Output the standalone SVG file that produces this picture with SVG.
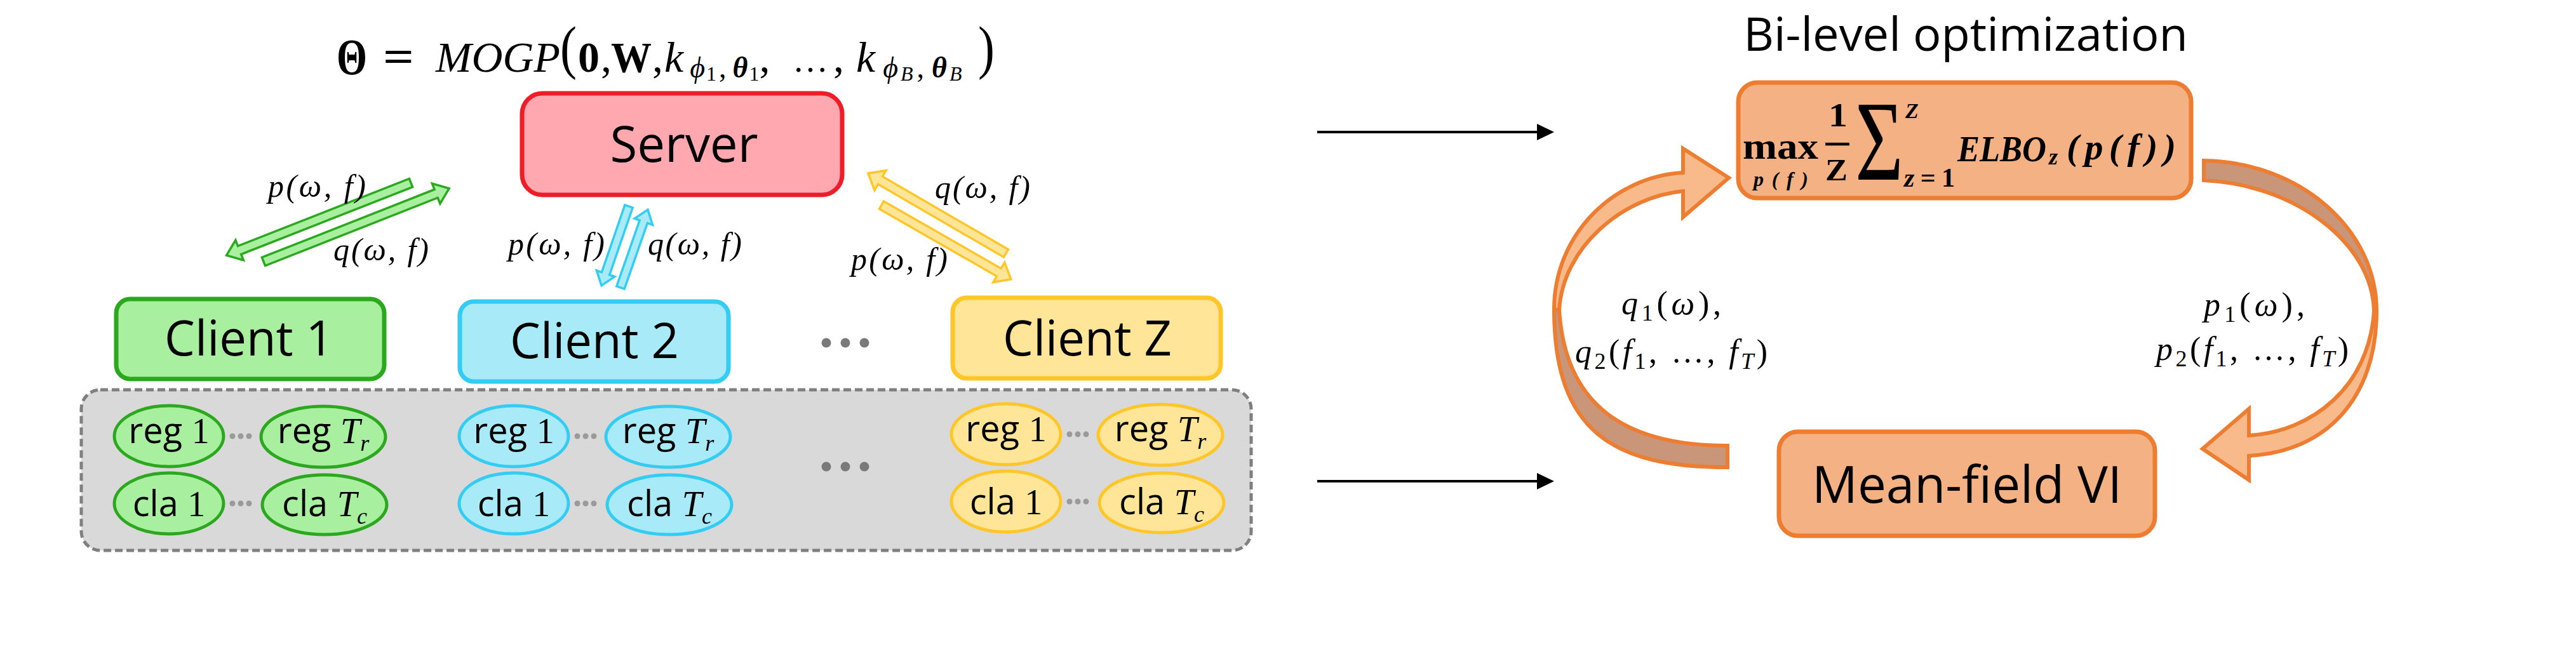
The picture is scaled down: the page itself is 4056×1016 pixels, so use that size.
<svg xmlns="http://www.w3.org/2000/svg" width="4056" height="1016" viewBox="0 0 4056 1016">
<defs>
<style>
.bg{fill:#ffffff}
.sans{font-family:"Open Sans","Noto Sans","DejaVu Sans",sans-serif;fill:#000}
.m{font-family:"Liberation Serif","DejaVu Serif",serif;fill:#000}
.mi{font-family:"Liberation Serif","DejaVu Serif",serif;font-style:italic;fill:#000}
.up{font-style:normal}
.mb{font-family:"Liberation Serif","DejaVu Serif",serif;font-weight:bold;fill:#000}
.g{fill:#A9EFA0;stroke:#2CA81F}
.b{fill:#A9EAF9;stroke:#33CCF3}
.y{fill:#FFE597;stroke:#FFC629}
.r{fill:#FFA8AF;stroke:#EE1D27}
.o{fill:#F4B183;stroke:#ED7D31}
.box{stroke-width:7}
.ell{stroke-width:5}
.blk{stroke-width:3.5;stroke-linejoin:miter}
.sd{fill:#9a9a9a}
.bd{fill:#7a7a7a}
.cl{fill:#F9BA8B;stroke:#ED7D31;stroke-width:6;stroke-linejoin:miter}
.cd{fill:#C9967A;stroke:#ED7D31;stroke-width:6;stroke-linejoin:miter}
.kline{stroke:#000;stroke-width:4}
</style>
</defs>
<rect class="bg" x="0" y="0" width="4056" height="1016"/>

<!-- formula above server -->
<g id="formula">
<text class="mb" x="530" y="117" font-size="80" textLength="48" lengthAdjust="spacingAndGlyphs">Θ</text>
<text class="mb" x="603" y="113" font-size="72" textLength="49" lengthAdjust="spacingAndGlyphs">=</text>
<text class="mi" x="686" y="113" font-size="68" textLength="196" lengthAdjust="spacingAndGlyphs">MOGP</text>
<text class="m" x="882" y="106" font-size="94" textLength="26" lengthAdjust="spacingAndGlyphs">(</text>
<text class="mb" x="910" y="113" font-size="68">0</text>
<text class="m" x="946" y="113" font-size="68">,</text>
<text class="mb" x="962" y="113" font-size="68" textLength="64" lengthAdjust="spacingAndGlyphs">W</text>
<text class="m" x="1027" y="113" font-size="68">,</text>
<text class="mi" x="1046" y="113" font-size="68">k<tspan font-size="46" dx="10" dy="9">ϕ</tspan><tspan class="up" font-size="32" dx="2" dy="5">1</tspan><tspan class="up" font-size="46" dx="4" dy="-5">,</tspan><tspan font-size="46" font-weight="bold" dx="10">θ</tspan><tspan class="up" font-size="32" dx="2" dy="5">1</tspan><tspan class="up" dy="-14">,</tspan></text>
<text class="m" x="1248" y="113" font-size="56">…</text>
<text class="m" x="1312" y="113" font-size="68">,</text>
<text class="mi" x="1348" y="113" font-size="68">k<tspan font-size="46" dx="12" dy="9">ϕ</tspan><tspan font-size="32" dx="4" dy="5">B</tspan><tspan class="up" font-size="46" dx="6" dy="-5">,</tspan><tspan font-size="46" font-weight="bold" dx="12">θ</tspan><tspan font-size="32" dx="4" dy="5">B</tspan></text>
<text class="m" x="1540" y="106" font-size="94" textLength="26" lengthAdjust="spacingAndGlyphs">)</text>
</g>

<!-- server -->
<g id="server">
<rect class="r box" x="822" y="147" width="504" height="160" rx="32"/>
<text class="sans" x="1077" y="255" font-size="78" text-anchor="middle">Server</text>
</g>

<!-- clients -->
<g id="client1">
<rect class="g box" x="183" y="471" width="422" height="126" rx="22"/>
<text class="sans" x="392" y="560" font-size="76" text-anchor="middle">Client 1</text>
</g>
<g id="client2">
<rect class="b box" x="724" y="475" width="423" height="126" rx="22"/>
<text class="sans" x="936" y="564" font-size="76" text-anchor="middle">Client 2</text>
</g>
<g id="clientZ">
<rect class="y box" x="1500" y="469" width="422" height="127" rx="22"/>
<text class="sans" x="1712" y="560" font-size="76" text-anchor="middle">Client Z</text>
</g>
<g id="client-ellipsis">
<circle class="bd" cx="1301" cy="540" r="7.5"/><circle class="bd" cx="1331" cy="540" r="7.5"/><circle class="bd" cx="1361" cy="540" r="7.5"/>
</g>

<!-- task panel -->
<g id="task-panel">
<rect x="128" y="614" width="1842" height="253" rx="30" fill="#D9D9D9" stroke="#7F7F7F" stroke-width="5" stroke-dasharray="12 6"/>
<circle class="bd" cx="1301" cy="735" r="7.5"/><circle class="bd" cx="1331" cy="735" r="7.5"/><circle class="bd" cx="1361" cy="735" r="7.5"/>
</g>

<g id="tasks-client1">
<g id="c1-reg1"><ellipse class="g ell" cx="266" cy="687" rx="86" ry="48"/><text class="sans" x="266" y="698" font-size="56" text-anchor="middle">reg <tspan class="m">1</tspan></text></g>
<g id="c1-regT"><ellipse class="g ell" cx="509" cy="688" rx="98" ry="48"/><text class="sans" x="509" y="698" font-size="56" text-anchor="middle">reg <tspan class="mi">T</tspan><tspan class="mi" font-size="36" dy="12">r</tspan></text></g>
<g id="c1-cla1"><ellipse class="g ell" cx="266" cy="793" rx="86" ry="48"/><text class="sans" x="266" y="813" font-size="56" text-anchor="middle">cla <tspan class="m">1</tspan></text></g>
<g id="c1-claT"><ellipse class="g ell" cx="511" cy="795" rx="98" ry="47"/><text class="sans" x="511" y="813" font-size="56" text-anchor="middle">cla <tspan class="mi">T</tspan><tspan class="mi" font-size="36" dy="12">c</tspan></text></g>
<circle class="sd" cx="366" cy="687" r="4.5"/><circle class="sd" cx="379" cy="687" r="4.5"/><circle class="sd" cx="392" cy="687" r="4.5"/>
<circle class="sd" cx="366" cy="793" r="4.5"/><circle class="sd" cx="379" cy="793" r="4.5"/><circle class="sd" cx="392" cy="793" r="4.5"/>
</g>

<g id="tasks-client2" transform="translate(543,0)">
<g id="c2-reg1"><ellipse class="b ell" cx="266" cy="687" rx="86" ry="48"/><text class="sans" x="266" y="698" font-size="56" text-anchor="middle">reg <tspan class="m">1</tspan></text></g>
<g id="c2-regT"><ellipse class="b ell" cx="509" cy="688" rx="98" ry="48"/><text class="sans" x="509" y="698" font-size="56" text-anchor="middle">reg <tspan class="mi">T</tspan><tspan class="mi" font-size="36" dy="12">r</tspan></text></g>
<g id="c2-cla1"><ellipse class="b ell" cx="266" cy="793" rx="86" ry="48"/><text class="sans" x="266" y="813" font-size="56" text-anchor="middle">cla <tspan class="m">1</tspan></text></g>
<g id="c2-claT"><ellipse class="b ell" cx="511" cy="795" rx="98" ry="47"/><text class="sans" x="511" y="813" font-size="56" text-anchor="middle">cla <tspan class="mi">T</tspan><tspan class="mi" font-size="36" dy="12">c</tspan></text></g>
<circle class="sd" cx="366" cy="687" r="4.5"/><circle class="sd" cx="379" cy="687" r="4.5"/><circle class="sd" cx="392" cy="687" r="4.5"/>
<circle class="sd" cx="366" cy="793" r="4.5"/><circle class="sd" cx="379" cy="793" r="4.5"/><circle class="sd" cx="392" cy="793" r="4.5"/>
</g>

<g id="tasks-clientZ" transform="translate(1318,-3)">
<g id="cZ-reg1"><ellipse class="y ell" cx="266" cy="687" rx="86" ry="48"/><text class="sans" x="266" y="698" font-size="56" text-anchor="middle">reg <tspan class="m">1</tspan></text></g>
<g id="cZ-regT"><ellipse class="y ell" cx="509" cy="688" rx="98" ry="48"/><text class="sans" x="509" y="698" font-size="56" text-anchor="middle">reg <tspan class="mi">T</tspan><tspan class="mi" font-size="36" dy="12">r</tspan></text></g>
<g id="cZ-cla1"><ellipse class="y ell" cx="266" cy="793" rx="86" ry="48"/><text class="sans" x="266" y="813" font-size="56" text-anchor="middle">cla <tspan class="m">1</tspan></text></g>
<g id="cZ-claT"><ellipse class="y ell" cx="511" cy="795" rx="98" ry="47"/><text class="sans" x="511" y="813" font-size="56" text-anchor="middle">cla <tspan class="mi">T</tspan><tspan class="mi" font-size="36" dy="12">c</tspan></text></g>
<circle class="sd" cx="366" cy="687" r="4.5"/><circle class="sd" cx="379" cy="687" r="4.5"/><circle class="sd" cx="392" cy="687" r="4.5"/>
<circle class="sd" cx="366" cy="793" r="4.5"/><circle class="sd" cx="379" cy="793" r="4.5"/><circle class="sd" cx="392" cy="793" r="4.5"/>
</g>

<!-- right side -->
<g id="bilevel-title">
<text class="sans" x="3095" y="80" font-size="74" text-anchor="middle">Bi-level optimization</text>
</g>

<g id="opt-box">
<rect class="o box" x="2737" y="130" width="713" height="182" rx="30"/>
<text class="mb" x="2744" y="250" font-size="60" textLength="119" lengthAdjust="spacingAndGlyphs">max</text>
<text class="mb" x="2761" y="293" font-size="32" font-style="italic" textLength="86" lengthAdjust="spacing">p(f)</text>
<text class="mb" x="2879" y="199" font-size="52" textLength="30" lengthAdjust="spacingAndGlyphs">1</text>
<line x1="2874" y1="227" x2="2912" y2="227" stroke="#000" stroke-width="4.5"/>
<text class="mb" x="2874" y="284" font-size="48" textLength="35" lengthAdjust="spacingAndGlyphs">Z</text>
<text class="m" font-size="181" transform="translate(2921,283) scale(0.72,1)">Σ</text>
<text class="mb" x="3000" y="186" font-size="34" font-style="italic">Z</text>
<text class="mb" x="2998" y="294" font-size="42" textLength="80" lengthAdjust="spacing"><tspan font-style="italic">z</tspan>=1</text>
<text class="mb" x="3082" y="254" font-size="56" font-style="italic" textLength="140" lengthAdjust="spacingAndGlyphs">ELBO</text>
<text class="mb" x="3226" y="259" font-size="36" font-style="italic">z</text>
<text class="mb" x="3254" y="251" font-size="58" font-style="italic" textLength="172" lengthAdjust="spacing">(p(f))</text>
</g>

<g id="vi-box">
<rect class="o box" x="2801" y="680" width="592" height="164" rx="30"/>
<text class="sans" x="3097" y="792" font-size="80" text-anchor="middle">Mean-field VI</text>
</g>

<!-- connectors -->
<g id="connectors">
<g id="client-server-arrows">
<path class="g blk" transform="translate(647,288) rotate(158.54)" d="M0,-7 H290 V-17 L312,0 L290,17 V7 H0 Z"/>
<path class="g blk" transform="translate(415,412) rotate(-21.5)" d="M0,-7 H292 V-17 L314,0 L292,17 V7 H0 Z"/>
<path class="b blk" transform="translate(990,325) rotate(108.98)" d="M0,-6.5 H112 V-15 L132,0 L112,15 V6.5 H0 Z"/>
<path class="b blk" transform="translate(977,453) rotate(-70.73)" d="M0,-6.5 H110 V-15 L130,0 L110,15 V6.5 H0 Z"/>
<path class="y blk" transform="translate(1584,399) rotate(-149.86)" d="M0,-7 H229 V-18 L251,0 L229,18 V7 H0 Z"/>
<path class="y blk" transform="translate(1388,323) rotate(29.84)" d="M0,-7 H213 V-18 L235,0 L213,18 V7 H0 Z"/>
</g>
<g id="flow-arrows">
<line class="kline" x1="2074" y1="208" x2="2424" y2="208"/>
<polygon points="2420,195 2447,208 2420,221" fill="#000"/>
<line class="kline" x1="2074" y1="758" x2="2424" y2="758"/>
<polygon points="2420,745 2447,758 2420,771" fill="#000"/>
</g>
<g id="loop-arrows">
<path class="cd" d="M2447,487 C2447,680 2540,736 2720,736 L2720,702 C2560,702 2465,640 2455,489 Z"/>
<path class="cl" d="M2447,487 C2447,370 2540,278 2650,272 L2650,234 L2722,280 L2650,342 L2650,301 C2555,310 2460,390 2455,489 Z"/>
<path class="cd" d="M3742,490 C3742,360 3620,255 3470,253 L3470,284 C3610,290 3735,380 3738,490 Z"/>
<path class="cl" d="M3742,490 C3742,630 3660,712 3541,718 L3541,756 L3468,707 L3541,644 L3541,686 C3640,680 3730,610 3738,490 Z"/>
</g>
</g>

<!-- connector labels -->
<g id="labels">
<text class="mi" x="422" y="310" font-size="50" textLength="154" lengthAdjust="spacing">p(ω, f)</text>
<text class="mi" x="525" y="410" font-size="50" textLength="150" lengthAdjust="spacing">q(ω, f)</text>
<text class="mi" x="800" y="401" font-size="50" textLength="152" lengthAdjust="spacing">p(ω, f)</text>
<text class="mi" x="1020" y="401" font-size="50" textLength="148" lengthAdjust="spacing">q(ω, f)</text>
<text class="mi" x="1472" y="312" font-size="50" textLength="150" lengthAdjust="spacing">q(ω, f)</text>
<text class="mi" x="1340" y="425" font-size="50" textLength="152" lengthAdjust="spacing">p(ω, f)</text>

<text class="mi" x="2553" y="495" font-size="52" textLength="157" lengthAdjust="spacing">q<tspan class="up" font-size="36" dy="10">1</tspan><tspan class="up" dy="-10">(</tspan>ω<tspan class="up">),</tspan></text>
<text class="mi" x="2480" y="571" font-size="52" textLength="303" lengthAdjust="spacing">q<tspan class="up" font-size="36" dy="10">2</tspan><tspan class="up" dy="-10">(</tspan>f<tspan class="up" font-size="36" dy="10">1</tspan><tspan class="up" dy="-10">, …, </tspan>f<tspan font-size="36" dy="10">T</tspan><tspan class="up" dy="-10">)</tspan></text>

<text class="mi" x="3470" y="497" font-size="52" textLength="159" lengthAdjust="spacing">p<tspan class="up" font-size="36" dy="10">1</tspan><tspan class="up" dy="-10">(</tspan>ω<tspan class="up">),</tspan></text>
<text class="mi" x="3395" y="567" font-size="52" textLength="303" lengthAdjust="spacing">p<tspan class="up" font-size="36" dy="10">2</tspan><tspan class="up" dy="-10">(</tspan>f<tspan class="up" font-size="36" dy="10">1</tspan><tspan class="up" dy="-10">, …, </tspan>f<tspan font-size="36" dy="10">T</tspan><tspan class="up" dy="-10">)</tspan></text>
</g>
</svg>
